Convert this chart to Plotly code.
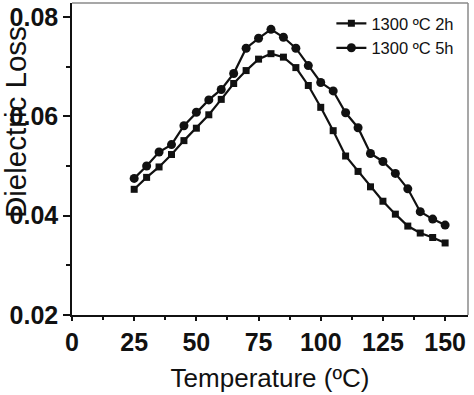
import plotly.graph_objects as go

temperature = [25, 30, 35, 40, 45, 50, 55, 60, 65, 70, 75, 80, 85, 90, 95,
               100, 105, 110, 115, 120, 125, 130, 135, 140, 145, 150]
loss_2h = [0.0453, 0.0477, 0.0498, 0.0523, 0.0551, 0.0576, 0.0603, 0.0634, 0.0666,
           0.0692, 0.0715, 0.0726, 0.0719, 0.0698, 0.0662, 0.0618, 0.0571, 0.0520,
           0.0489, 0.0458, 0.0429, 0.0403, 0.0379, 0.0365, 0.0356, 0.0345]
loss_5h = [0.0475, 0.0500, 0.0528, 0.0543, 0.0581, 0.0608, 0.0633, 0.0654, 0.0686,
           0.0737, 0.0757, 0.0775, 0.0759, 0.0737, 0.0702, 0.0668, 0.0651, 0.0607,
           0.0577, 0.0525, 0.0509, 0.0485, 0.0454, 0.0408, 0.0393, 0.0381]
series_names = ["1300 ºC 2h", "1300 ºC 5h"]
x_ticks = [0, 25, 50, 75, 100, 125, 150]
y_ticks = [0.02, 0.04, 0.06, 0.08]

INK = "#111111"
tick_font = dict(family="Liberation Sans, Arial", size=25, color=INK, weight="bold")

fig = go.Figure()
fig.add_trace(go.Scatter(x=temperature, y=loss_2h, name=series_names[0],
                         mode="lines+markers",
                         line=dict(color=INK, width=2.2),
                         marker=dict(symbol="square", size=7, color=INK)))
fig.add_trace(go.Scatter(x=temperature, y=loss_5h, name=series_names[1],
                         mode="lines+markers",
                         line=dict(color=INK, width=2.2),
                         marker=dict(symbol="circle", size=9, color=INK)))

fig.update_layout(
    width=474, height=395,
    margin=dict(l=72, r=6, t=3, b=80),
    paper_bgcolor="white", plot_bgcolor="white",
    showlegend=True,
    legend=dict(x=0.655, y=0.99, xanchor="left", yanchor="top",
                bgcolor="rgba(0,0,0,0)", borderwidth=0,
                font=dict(family="Liberation Sans, Arial", size=16.5, color=INK)),
    xaxis=dict(range=[0, 159.2], tickvals=x_ticks, ticks="outside", ticklen=4,
               tickwidth=1.5, tickcolor=INK, showline=True, linecolor=INK, linewidth=1.5,
               showgrid=False, zeroline=False, tickfont=tick_font,
               minor=dict(dtick=12.5, tick0=0, ticks="outside", ticklen=3,
                          tickcolor=INK, tickwidth=1.5, showgrid=False),
               title=dict(text="Temperature (ºC)", standoff=14,
                          font=dict(family="Liberation Sans, Arial", size=26, color=INK))),
    yaxis=dict(range=[0.02, 0.0828], tickvals=y_ticks, tickformat=".2f",
               ticks="outside", ticklen=7, tickwidth=1.5, tickcolor=INK,
               showline=True, linecolor=INK, linewidth=1.5,
               showgrid=False, zeroline=False, tickfont=tick_font,
               minor=dict(dtick=0.01, tick0=0.02, ticks="outside", ticklen=4,
                          tickcolor=INK, tickwidth=1.5, showgrid=False)),
    shapes=[
        dict(type="line", xref="paper", yref="paper", x0=0, x1=1, y0=1, y1=1,
             line=dict(color="#8a8a8a", width=1.5)),
        dict(type="line", xref="paper", yref="paper", x0=1, x1=1, y0=0, y1=1,
             line=dict(color="#8a8a8a", width=1.5)),
    ],
    annotations=[
        dict(text="Dielectric Loss", textangle=-90, xref="paper", yref="paper",
             x=-(72 - 15) / 396, y=(315 - 122) / 312, xanchor="center", yanchor="middle",
             showarrow=False,
             font=dict(family="Liberation Sans, Arial", size=29.5, color=INK)),
    ],
)

fig.write_html("out.html", config={"displayModeBar": False},
               post_script="document.body.style.margin='0';")
